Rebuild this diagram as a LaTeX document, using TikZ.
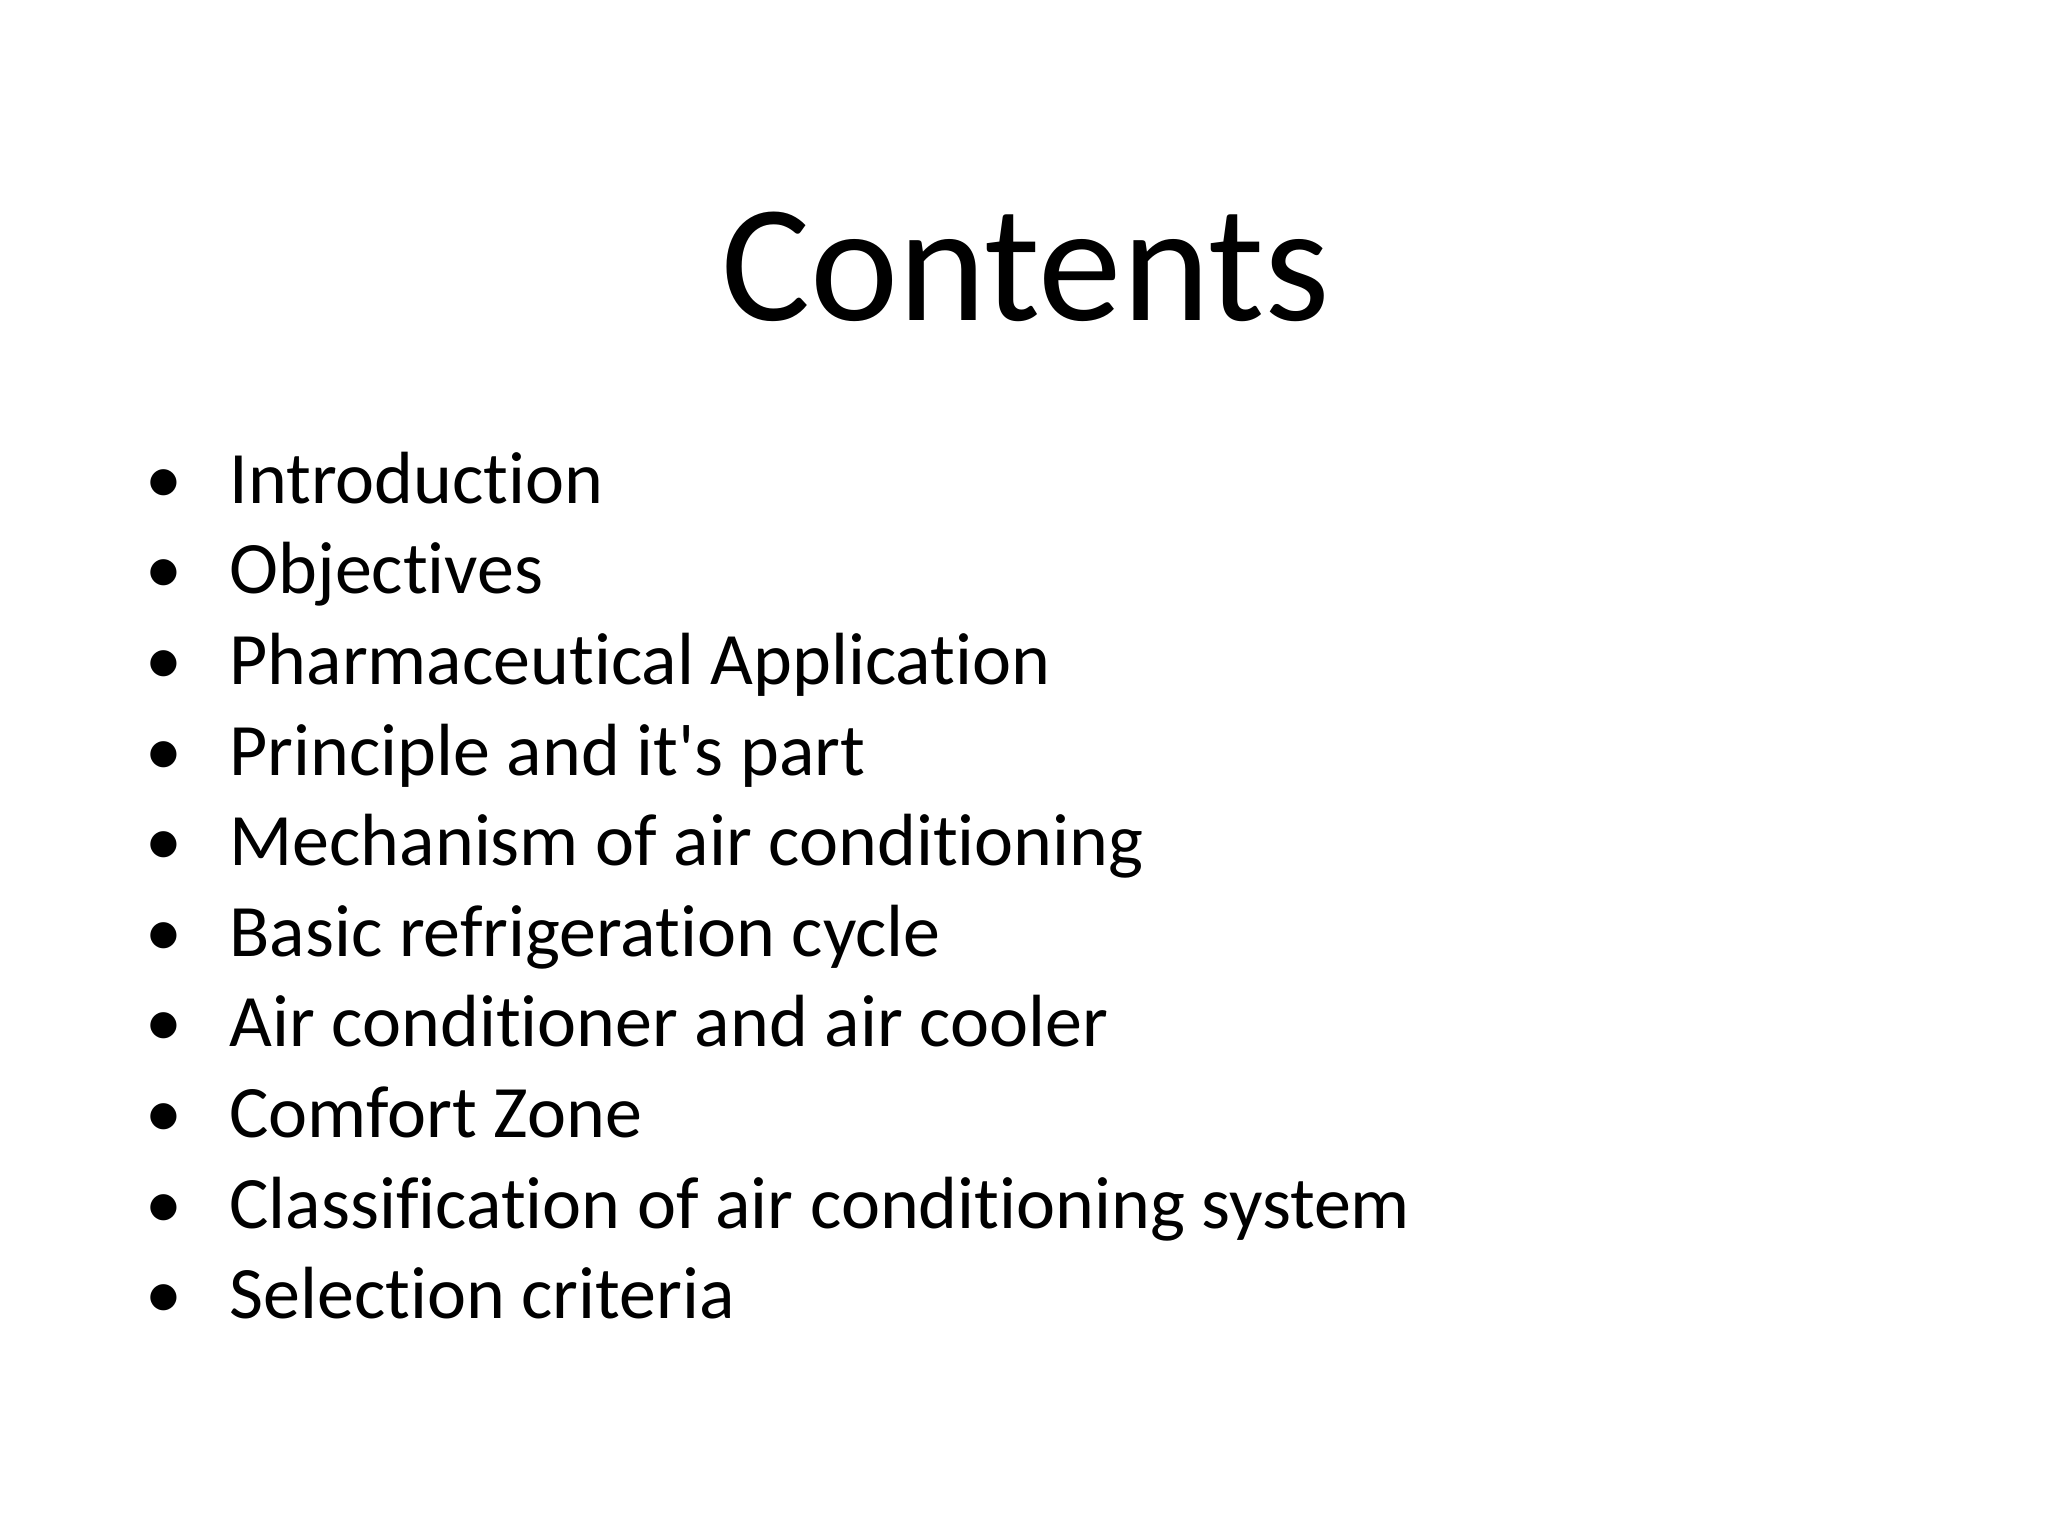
\documentclass[tikz,border=0pt]{standalone}
\usepackage{fontspec}
\setmainfont{Carlito}[Ligatures={NoCommon}]
\usetikzlibrary{positioning}

\begin{document}
\begin{tikzpicture}[
  title/.style={
    font=\fontsize{59}{70}\selectfont,
    anchor=base,
    inner sep=0pt
  },
  entry/.style={
    font=\fontsize{26.1}{31}\selectfont,
    anchor=base west,
    inner sep=0pt
  },
  dot/.style={
    font=\fontsize{26.1}{31}\selectfont,
    anchor=base,
    inner sep=0pt
  }
]

% Page
\useasboundingbox (0,0) rectangle (25.4,-19.05);
\fill [white] (0,0) rectangle (25.4,-19.05);

% Title
\node [title] (title) at (12.72,-3.97) {Contents};

% Items
\foreach \txt [count=\i] in {
    Introduction,
    Objectives,
    Pharmaceutical Application,
    Principle and it\textquotesingle s part,
    Mechanism of air conditioning,
    Basic refrigeration cycle,
    Air conditioner and air cooler,
    Comfort Zone,
    Classification of air conditioning system,
    Selection criteria} {
  \node [entry] (item\i) at (2.84,{-6.24-(\i-1)*1.124}) {\txt};
  \node [dot] (dot\i) at (2.03,{-6.24-(\i-1)*1.124}) {\symbol{"2022}};
}

\end{tikzpicture}
\end{document}
